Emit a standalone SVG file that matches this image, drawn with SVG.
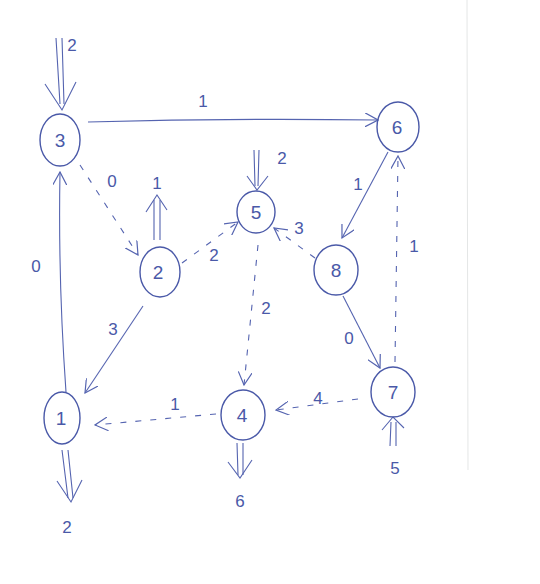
<svg xmlns="http://www.w3.org/2000/svg" width="540" height="584" viewBox="0 0 540 584">
<defs>
<style>
.n{fill:none;stroke:#4a59a8;stroke-width:1.4}
.e{fill:none;stroke:#5564b0;stroke-width:1.1}
.d{stroke-dasharray:6 9}
.t{font-family:"Liberation Sans","DejaVu Sans",sans-serif;fill:#4a59a8;font-size:17px;text-anchor:middle}
.nt{font-size:19px}
</style>
<marker id="a" viewBox="0 0 14 14" refX="13" refY="7" markerWidth="14" markerHeight="14" markerUnits="userSpaceOnUse" orient="auto">
<path d="M0,0 L13,7 L0,14" fill="none" stroke="#5564b0" stroke-width="1.2"/>
</marker>
</defs>
<rect width="540" height="584" fill="#fff"/>
<line x1="467" y1="0" x2="468" y2="470" stroke="#e4e6e6" stroke-width="1"/>
<g id="connectors">
<path class="e" d="M88,122 Q230,118 378,120" marker-end="url(#a)"/>
<text class="t" x="203" y="107">1</text>
<path class="e d" d="M80,165 L138,255" marker-end="url(#a)"/>
<text class="t" x="112" y="187">0</text>
<path class="e d" d="M182,263 L238,222" marker-end="url(#a)"/>
<text class="t" x="214" y="261">2</text>
<path class="e d" d="M315,258 L274,228" marker-end="url(#a)"/>
<text class="t" x="299" y="234">3</text>
<path class="e" d="M388,152 L342,238" marker-end="url(#a)"/>
<text class="t" x="358" y="190">1</text>
<path class="e d" d="M258,245 L244,385" marker-end="url(#a)"/>
<text class="t" x="266" y="314">2</text>
<path class="e" d="M343,296 L380,368" marker-end="url(#a)"/>
<text class="t" x="349" y="344">0</text>
<path class="e d" d="M395,362 L398,156" marker-end="url(#a)"/>
<text class="t" x="414" y="252">1</text>
<path class="e d" d="M358,399 L276,410" marker-end="url(#a)"/>
<text class="t" x="318" y="404">4</text>
<path class="e d" d="M216,414 L95,425" marker-end="url(#a)"/>
<text class="t" x="175" y="410">1</text>
<path class="e" d="M143,306 L85,393" marker-end="url(#a)"/>
<text class="t" x="113" y="335">3</text>
<path class="e" d="M66,392 Q58,280 60,172" marker-end="url(#a)"/>
<text class="t" x="36" y="272">0</text>
<g id="in3">
<path class="e" d="M56,38 L60,104 M62,38 L64,104"/>
<path class="e" d="M45,84 L62,110 L76,82"/>
<text class="t" x="72" y="51">2</text>
</g>
<g id="out2">
<path class="e" d="M154,240 L154,200 M160,240 L160,200"/>
<path class="e" d="M146,212 L157,195 L167,210"/>
<text class="t" x="157" y="189">1</text>
</g>
<g id="in5">
<path class="e" d="M254,150 L255,186 M259,150 L258,186"/>
<path class="e" d="M247,176 L257,190 L268,176"/>
<text class="t" x="282" y="164">2</text>
</g>
<g id="out1">
<path class="e" d="M62,450 L68,498 M68,450 L73,498"/>
<path class="e" d="M57,481 L71,502 L82,480"/>
<text class="t" x="67" y="533">2</text>
</g>
<g id="out4">
<path class="e" d="M237,443 L238,475 M243,443 L243,475"/>
<path class="e" d="M228,462 L240,478 L252,460"/>
<text class="t" x="240" y="507">6</text>
</g>
<g id="in7">
<path class="e" d="M390,446 L391,422 M396,446 L396,422"/>
<path class="e" d="M382,430 L393,417 L404,428"/>
<text class="t" x="395" y="474">5</text>
</g>
</g>
<g id="node3"><ellipse class="n" cx="60" cy="140" rx="20" ry="26"/><text class="t nt" x="60" y="147">3</text></g>
<g id="node6"><ellipse class="n" cx="398" cy="127" rx="21" ry="25"/><text class="t nt" x="397" y="134">6</text></g>
<g id="node2"><ellipse class="n" cx="160" cy="272" rx="20" ry="25"/><text class="t nt" x="158" y="279">2</text></g>
<g id="node5"><ellipse class="n" cx="256" cy="212" rx="19" ry="21"/><text class="t nt" x="256" y="219">5</text></g>
<g id="node8"><ellipse class="n" cx="336" cy="270" rx="22" ry="25"/><text class="t nt" x="336" y="277">8</text></g>
<g id="node1"><ellipse class="n" cx="62" cy="418" rx="18" ry="26"/><text class="t nt" x="61" y="425">1</text></g>
<g id="node4"><ellipse class="n" cx="243" cy="415" rx="22" ry="25"/><text class="t nt" x="242" y="422">4</text></g>
<g id="node7"><ellipse class="n" cx="393" cy="392" rx="22" ry="25"/><text class="t nt" x="393" y="399">7</text></g>
</svg>
